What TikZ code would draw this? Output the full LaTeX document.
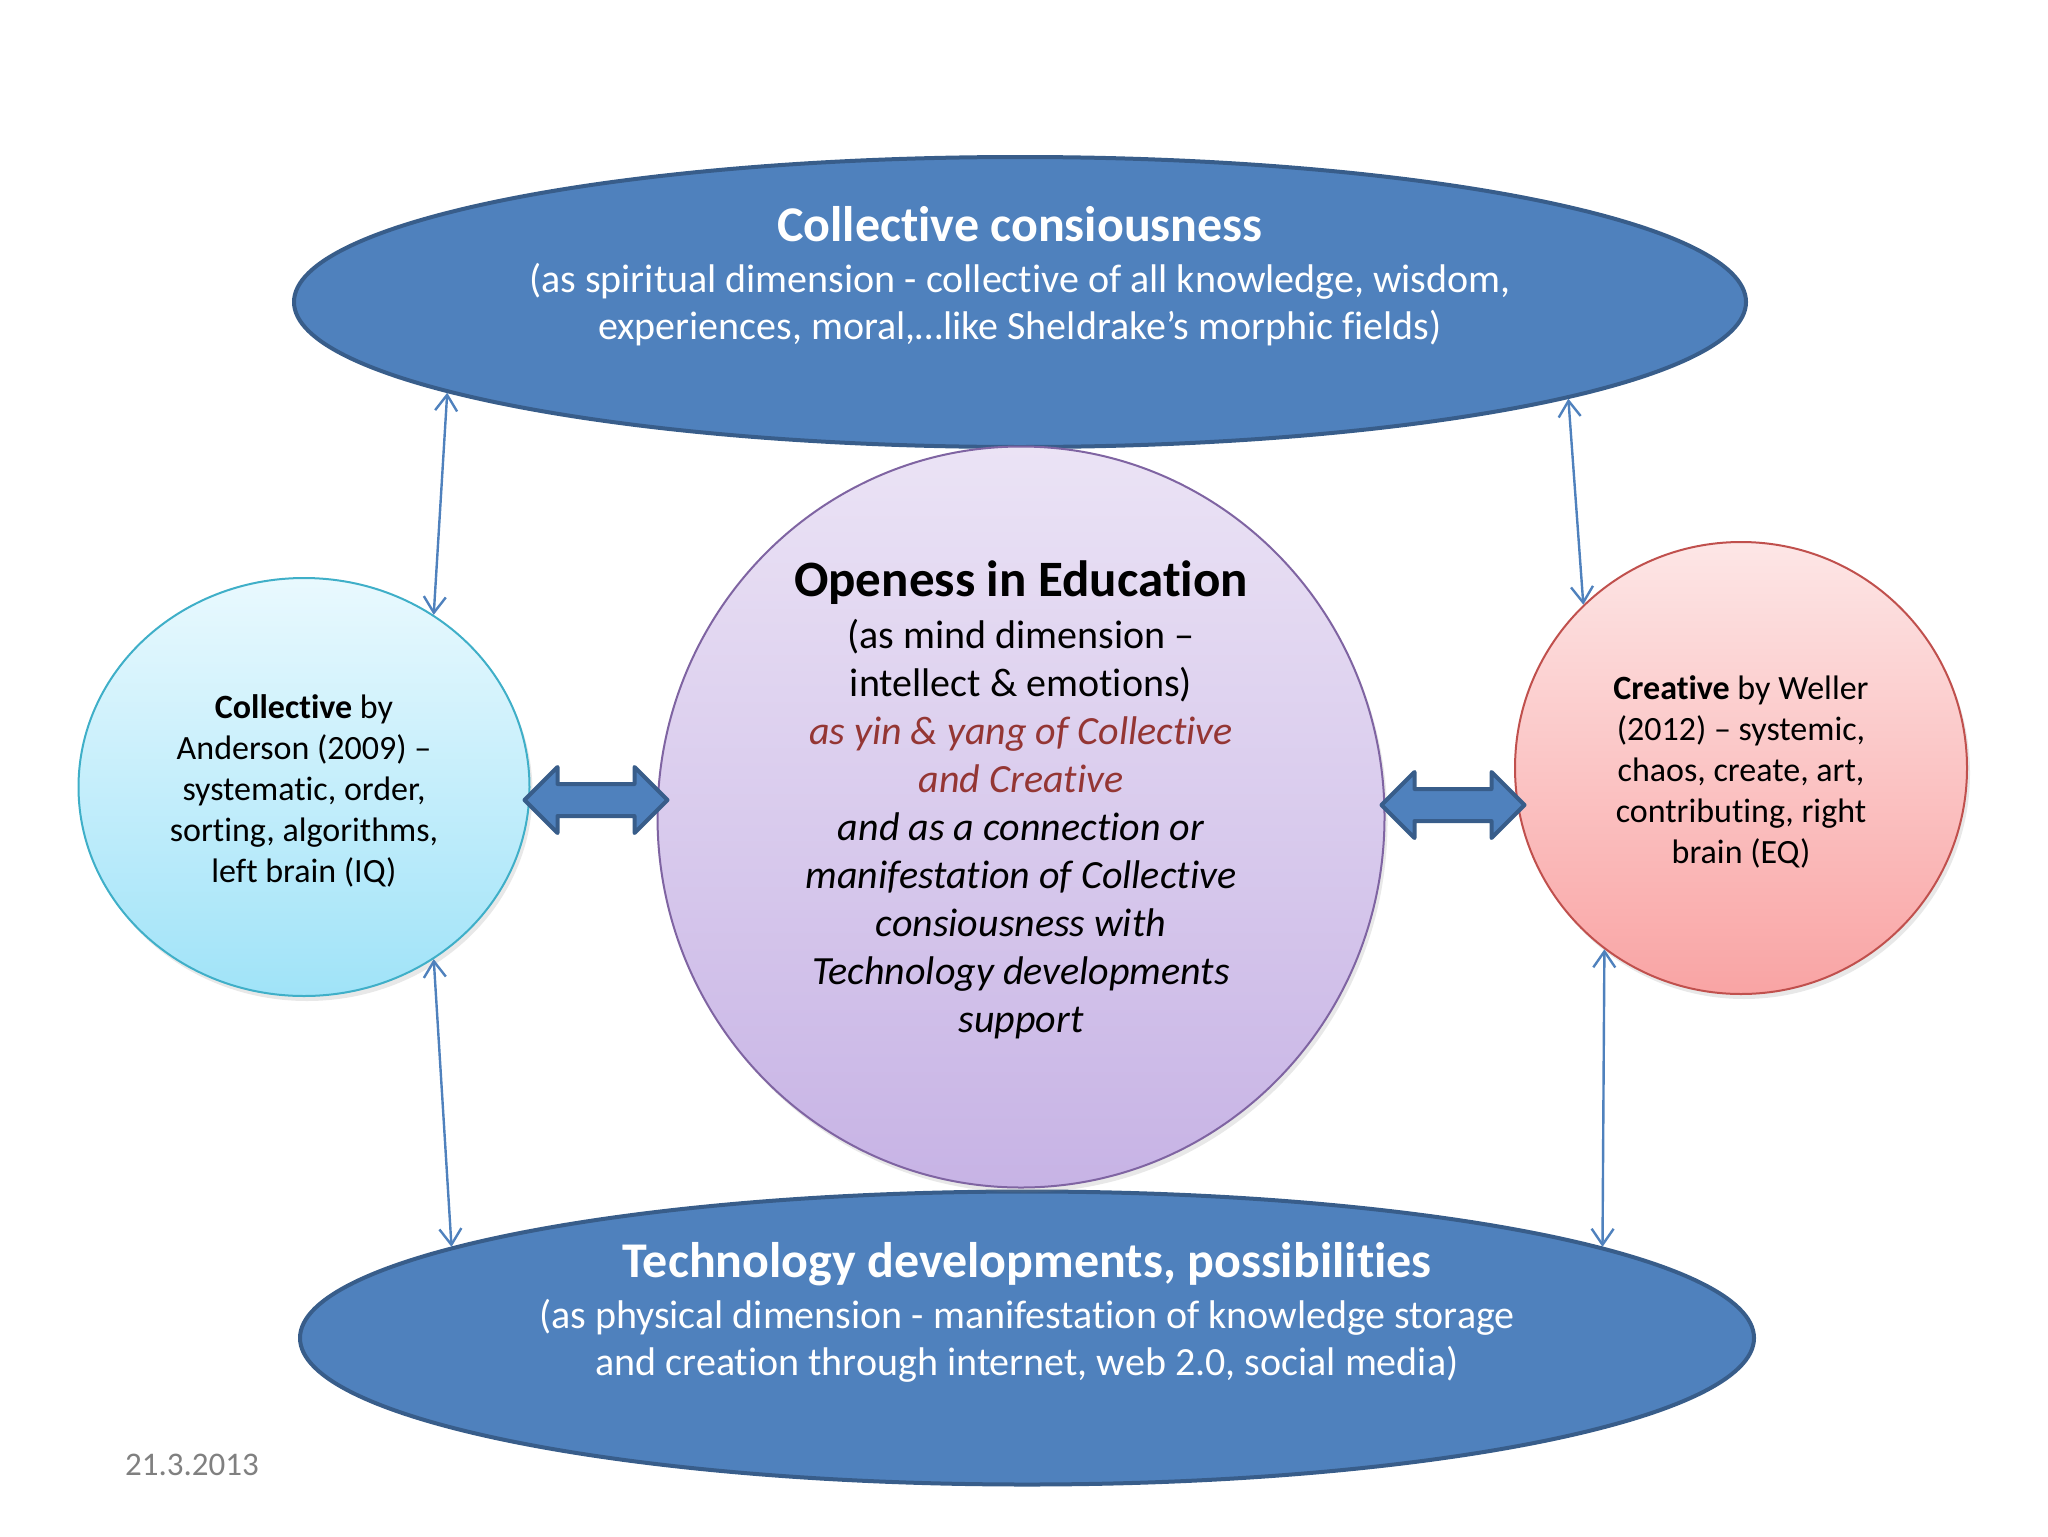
\documentclass[tikz,border=0pt]{standalone}
\usepackage{fontspec}
\setmainfont{Carlito}[Ligatures=NoCommon]
\usetikzlibrary{arrows.meta,shapes.geometric,shadows,positioning}
\definecolor{ofblue}{HTML}{4F81BD}
\definecolor{ofblueline}{HTML}{385D8A}
\definecolor{yinred}{HTML}{943634}
\definecolor{mindtop}{HTML}{EBE3F5}
\definecolor{mindbot}{HTML}{C7B3E5}
\definecolor{mindline}{HTML}{7F64A2}
\definecolor{colltop}{HTML}{E9F9FE}
\definecolor{collbot}{HTML}{A0E3F8}
\definecolor{collline}{HTML}{3FAFC8}
\definecolor{crttop}{HTML}{FDE6E6}
\definecolor{crtbot}{HTML}{F9A4A4}
\definecolor{crtline}{HTML}{C0504D}

\begin{document}
\begin{tikzpicture}[x=0.5pt,y=-0.5pt,
   dimension/.style={ellipse, draw=ofblueline, fill=ofblue, line width=2pt,
      inner sep=0pt, minimum width=726pt, minimum height=145pt},
   pole/.style={ellipse, line width=1pt, inner sep=0pt,
      drop shadow={opacity=0.18, shadow xshift=1.5pt, shadow yshift=-2.5pt}},
   link/.style={{Straight Barb[length=8pt,width=11pt]}-{Straight Barb[length=8pt,width=11pt]},
      draw=ofblue, line width=1.2pt},
   bridge/.style={draw=ofblueline, fill=ofblue, line width=2pt, line join=round}]
   \useasboundingbox (0,0) rectangle (2048,1536);

   % the two outer dimensions
   \node (coll) at (1020,302) [dimension] {};
   \node (tech) at (1027,1338) [dimension, minimum width=727pt, minimum height=146.5pt] {};
   \node (collTxt) at (1020,276) [text=white, align=center, font=\fontsize{20}{23.5}\selectfont]
      {{\fontsize{25}{28}\selectfont\bfseries Collective consiousness}\\[2pt]
       (as spiritual dimension - collective of all knowledge, wisdom,\\
       experiences, moral,\dots like Sheldrake's morphic fields)};
   \node (techTxt) at (1027,1312) [text=white, align=center, font=\fontsize{20}{23.5}\selectfont]
      {{\fontsize{25}{28}\selectfont\bfseries Technology developments, possibilities}\\[2pt]
       (as physical dimension - manifestation of knowledge storage\\
       and creation through internet, web 2.0, social media)};

   % mind in the middle
   \node (mind) at (1021,817) [ellipse, draw=mindline, line width=1pt,
      top color=mindtop, bottom color=mindbot, inner sep=0pt,
      minimum width=363.5pt, minimum height=370.5pt,
      drop shadow={opacity=0.18, shadow xshift=1.5pt, shadow yshift=-2.5pt}] {};
   \node (mindTxt) at (1021,800) [align=center, font=\fontsize{20}{24}\selectfont]
      {{\fontsize{25.5}{28}\selectfont\bfseries Openess in Education}\\[2pt]
       (as mind dimension --\\
       intellect \& emotions)\\
       \itshape\color{yinred}as yin \& yang of Collective\\
       \itshape\color{yinred}and Creative\\
       \itshape and as a connection or\\
       \itshape manifestation of Collective\\
       \itshape consiousness with\\
       \itshape Technology developments\\
       \itshape support};

   % the two poles
   \node (lft) at (304,787) [pole, draw=collline, top color=colltop,
      bottom color=collbot, minimum width=225.5pt, minimum height=209pt] {};
   \node (lftTxt) at (304,791) [align=center, font=\fontsize{17}{20.6}\selectfont]
      {\textbf{Collective} by\\ Anderson (2009) --\\ systematic, order,\\
       sorting, algorithms,\\ left brain (IQ)};
   \node (crt) at (1741,768) [pole, draw=crtline, top color=crttop,
      bottom color=crtbot, minimum width=226pt, minimum height=226pt] {};
   \node (crtTxt) at (1741,772) [align=center, font=\fontsize{17}{20.6}\selectfont]
      {\textbf{Creative} by Weller\\ (2012) -- systemic,\\ chaos, create, art,\\
       contributing, right\\ brain (EQ)};

   % connections
   \draw[link] (coll.189.5) -- (lft.53);
   \draw[link] (coll.350.1) -- (crt.134.6);
   \draw[link] (lft.307.3) -- (tech.171.4);
   \draw[link] (crt.233.5) -- (tech.9.4);
   \foreach \name/\cx/\cy in {lftBridge/596/800, crtBridge/1453/805} {
      \coordinate (\name) at (\cx,\cy);
      \draw[bridge, shift={(\name)}] (-71.5,0) -- (-38.5,-33) -- (-38.5,-16)
         -- (38.5,-16) -- (38.5,-33) -- (71.5,0) -- (38.5,33) -- (38.5,16)
         -- (-38.5,16) -- (-38.5,33) -- cycle;
   }

   \node (date) at (192,1465) [text=black!50, font=\fontsize{16.5}{19}\selectfont] {21.3.2013};
\end{tikzpicture}
\end{document}
